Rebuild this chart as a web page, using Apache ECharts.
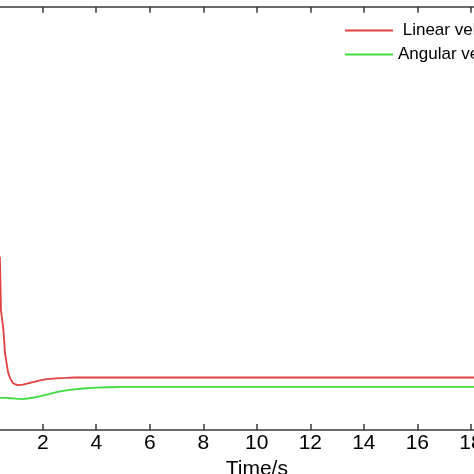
<!DOCTYPE html>
<html>
<head>
<meta charset="utf-8">
<script src="https://cdn.jsdelivr.net/npm/echarts@6/dist/echarts.min.js"></script>
<style>
html,body{margin:0;padding:0;background:#fff;overflow:hidden;width:474px;height:474px;position:relative;}
#c{position:absolute;left:-11px;top:0;width:580px;height:474px;}
</style>
</head>
<body>
<div id="c"></div>
<script>
var seriesNames = [' Linear velocity', 'Angular velocity'];
var xTicks = { min: 0, max: 20, interval: 2 };
var linearVelocity = [
  [0.40, 4.09], [0.44, 2.83], [0.48, 2.62], [0.52, 2.43], [0.56, 2.12], [0.59, 1.82],
  [0.65, 1.58], [0.71, 1.35], [0.80, 1.20], [0.89, 1.11], [1.00, 1.07], [1.08, 1.06],
  [1.26, 1.07], [1.45, 1.10], [1.64, 1.13], [1.90, 1.17], [2.16, 1.20], [2.50, 1.22],
  [2.90, 1.23], [3.20, 1.24], [6, 1.24], [10, 1.24], [14, 1.24], [18, 1.24], [20, 1.24]
];
var angularVelocity = [
  [0.40, 0.76], [0.60, 0.76], [0.80, 0.75], [1.00, 0.74], [1.26, 0.73], [1.50, 0.75],
  [1.80, 0.78], [2.20, 0.84], [2.55, 0.90], [3.00, 0.95], [3.50, 0.98], [4.00, 1.00],
  [4.50, 1.01], [5.00, 1.02], [8, 1.02], [12, 1.02], [16, 1.02], [20, 1.02]
];
var yRange = { min: 0, max: 10 };

var chart = echarts.init(document.getElementById('c'), null, { renderer: 'canvas' });
var axisColor = '#3a3a3a';
var font = 'Liberation Sans, Arial, sans-serif';
chart.setOption({
  animation: false,
  backgroundColor: '#fff',
  grid: { left: 0.2, top: 6.7, width: 535.2, height: 423.3, containLabel: false, outerBoundsMode: 'none' },
  legend: {
    orient: 'vertical', left: 356, top: 22, padding: 0, itemGap: 7,
    itemWidth: 48, itemHeight: 2,
    textStyle: { fontFamily: font, fontSize: 17, color: '#000' },
    data: [
      { name: seriesNames[0], icon: 'rect' },
      { name: seriesNames[1], icon: 'rect' }
    ]
  },
  xAxis: [
    {
      type: 'value', position: 'bottom', min: xTicks.min, max: xTicks.max, interval: xTicks.interval,
      name: 'Time/s', nameLocation: 'middle', nameGap: 23,
      nameTextStyle: { fontFamily: font, fontSize: 21, color: '#000' },
      axisLine: { show: true, lineStyle: { color: axisColor, width: 1.5 } },
      axisTick: { show: true, inside: true, length: 6, lineStyle: { color: axisColor, width: 1.5 } },
      axisLabel: { show: true, margin: 3, fontFamily: font, fontSize: 21, color: '#000',
        formatter: function (v) { return v === 0 ? '' : String(v); } },
      splitLine: { show: false }
    },
    {
      type: 'value', position: 'top', min: xTicks.min, max: xTicks.max, interval: xTicks.interval,
      axisLine: { show: true, lineStyle: { color: axisColor, width: 1.5 } },
      axisTick: { show: true, inside: true, length: 6, lineStyle: { color: axisColor, width: 1.5 } },
      axisLabel: { show: false },
      splitLine: { show: false }
    }
  ],
  yAxis: { type: 'value', min: yRange.min, max: yRange.max, show: false, splitLine: { show: false } },
  series: [
    {
      name: seriesNames[0], type: 'line', data: linearVelocity, showSymbol: false, symbol: 'none',
      lineStyle: { color: '#e04040', width: 1.8 }, itemStyle: { color: '#e04040' }
    },
    {
      name: seriesNames[1], type: 'line', data: angularVelocity, showSymbol: false, symbol: 'none',
      lineStyle: { color: '#40dc40', width: 1.8 }, itemStyle: { color: '#40dc40' }
    }
  ]
});
</script>
</body>
</html>
